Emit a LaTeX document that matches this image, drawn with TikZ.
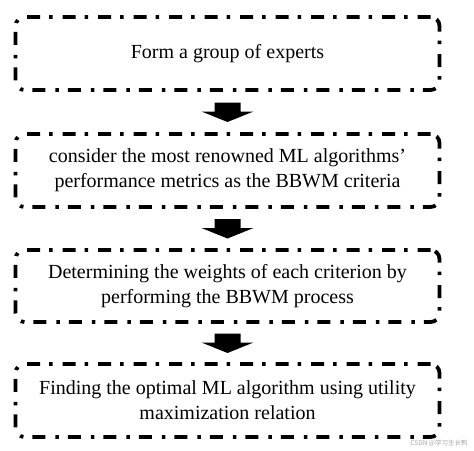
\documentclass[tikz,border=0pt]{standalone}
\usepackage{fontspec}
\setmainfont{Liberation Serif}
\newfontfamily\cjkfont{Noto Sans CJK SC}
\usetikzlibrary{calc}
\tikzset{
  stagebox/.style={draw=black, line width=3.8pt, line cap=butt,
    dash pattern=on 13pt off 10pt on 3.5pt off 9pt,
    rounded corners=9pt, minimum width=424pt, inner sep=0pt,
    align=center, font=\fontsize{20}{25}\selectfont},
  blockarrow/.style={fill=black, draw=none}
}
\newcommand{\flowarrow}[1]{%
  \fill[blockarrow] ($(#1)+(-13,-9.5)$) -- ++(26,0) -- ++(0,9) -- ++(13,0)
    -- ++(-26,10.5) -- ++(-26,-10.5) -- ++(13,0) -- cycle;}
\begin{document}
\begin{tikzpicture}[x=1pt,y=-1pt]
\useasboundingbox (0,0) rectangle (474,450);
\node[stagebox, minimum height=73pt] (b1) at (227.5,53.5) {Form a group of experts};
\node[stagebox, minimum height=73pt] (b2) at (227.5,170.5) {consider the most renowned ML algorithms'\\performance metrics as the BBWM criteria};
\node[stagebox, minimum height=72pt] (b3) at (227.5,286) {Determining the weights of each criterion by\\performing the BBWM process};
\node[stagebox, minimum height=73pt] (b4) at (227.5,400.5) {Finding the optimal ML algorithm using utility\\maximization relation};
\path (b1.south) -- (b2.north) coordinate[pos=0.5] (m1);
\path (b2.south) -- (b3.north) coordinate[pos=0.5] (m2);
\path (b3.south) -- (b4.north) coordinate[pos=0.5] (m3);
\flowarrow{m1}
\flowarrow{m2}
\flowarrow{m3}
\node[text=black!35, font=\fontsize{6.5}{7}\selectfont\cjkfont, inner sep=0pt] (wm) at (439,443) {CSDN @学习生长鸭};
\end{tikzpicture}
\end{document}
